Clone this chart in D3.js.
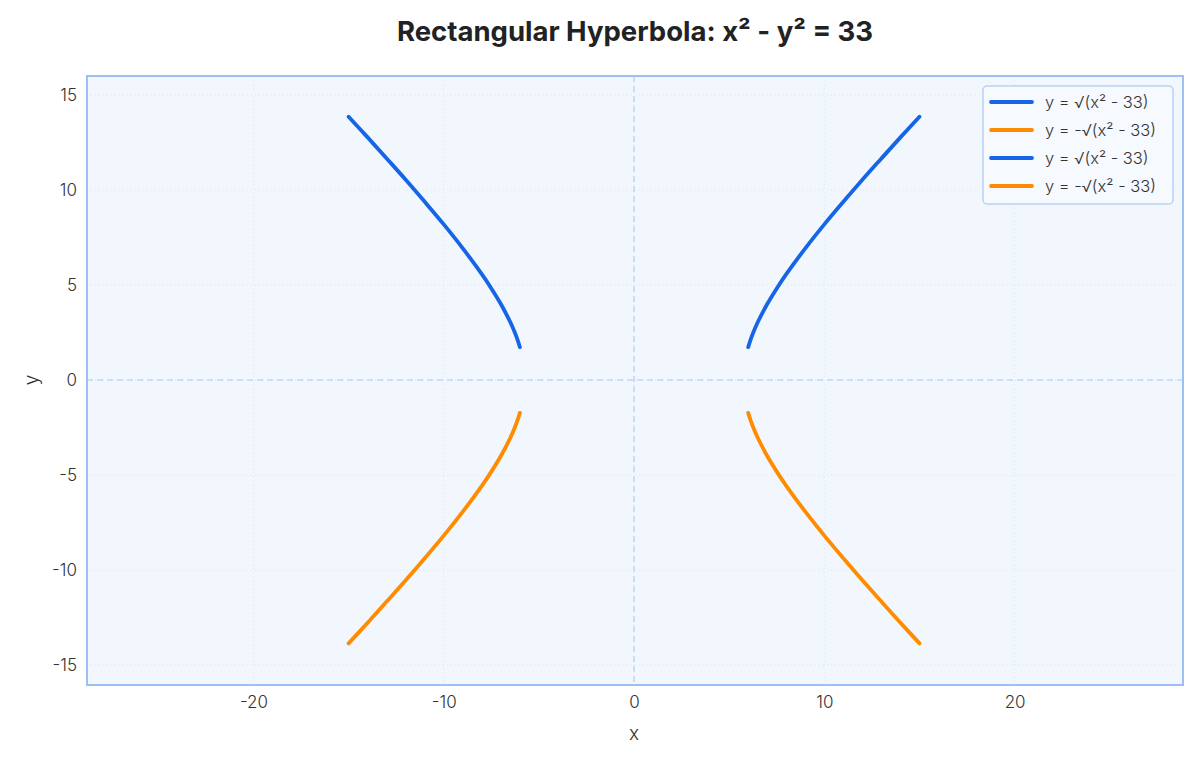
<!DOCTYPE html>
<html>
<head>
<meta charset="utf-8">
<script src="https://cdn.jsdelivr.net/npm/d3@7"></script>
<style>
  body { margin: 0; background: #fff; }
  svg { font-family: Inter, "Noto Sans", sans-serif; }
</style>
</head>
<body>
<svg id="chart" width="1200" height="762"></svg>
<script>
var branchX = [6, 6.1, 6.25, 6.5, 7, 7.5, 8, 9, 10, 11, 12, 13, 14, 15];
var branchY = [1.73, 2.05, 2.46, 3.04, 4.00, 4.82, 5.57, 6.93, 8.19, 9.38, 10.54, 11.66, 12.77, 13.86];
var xTicks = [-20, -10, 0, 10, 20];
var yTicks = [-15, -10, -5, 0, 5, 10, 15];
var seriesNames = ["y = \u221A(x\u00B2 - 33)", "y = -\u221A(x\u00B2 - 33)", "y = \u221A(x\u00B2 - 33)", "y = -\u221A(x\u00B2 - 33)"];
var seriesColors = ["#1565e6", "#ff8c00", "#1565e6", "#ff8c00"];
// sign of x, sign of y for each series
var seriesSigns = [[1, 1], [1, -1], [-1, 1], [-1, -1]];

var margin = { left: 87, top: 76, right: 17, bottom: 77 };
var width = 1200, height = 762;

var svg = d3.select("#chart");

var x = d3.scaleLinear().domain([-28.75, 28.85]).range([margin.left, width - margin.right]);
var y = d3.scaleLinear().domain([-16.05, 16.0]).range([height - margin.bottom, margin.top]);

// plot background
svg.append("rect")
    .attr("x", margin.left).attr("y", margin.top)
    .attr("width", width - margin.right - margin.left)
    .attr("height", height - margin.bottom - margin.top)
    .attr("fill", "#f2f7fd");

// dotted grid
svg.append("g").selectAll("line").data(xTicks).enter().append("line")
    .attr("x1", function(d) { return x(d); }).attr("x2", function(d) { return x(d); })
    .attr("y1", margin.top).attr("y2", height - margin.bottom)
    .attr("stroke", "#dbe5f2").attr("stroke-width", 1).attr("stroke-dasharray", "1,3");
svg.append("g").selectAll("line").data(yTicks).enter().append("line")
    .attr("y1", function(d) { return y(d); }).attr("y2", function(d) { return y(d); })
    .attr("x1", margin.left).attr("x2", width - margin.right)
    .attr("stroke", "#dbe5f2").attr("stroke-width", 1).attr("stroke-dasharray", "1,3");

// zero lines
svg.append("line")
    .attr("x1", margin.left).attr("x2", width - margin.right)
    .attr("y1", y(0)).attr("y2", y(0))
    .attr("stroke", "#c3d7f5").attr("stroke-width", 1.6).attr("stroke-dasharray", "6,4");
svg.append("line")
    .attr("x1", x(0)).attr("x2", x(0))
    .attr("y1", margin.top).attr("y2", height - margin.bottom)
    .attr("stroke", "#c3d7f5").attr("stroke-width", 1.6).attr("stroke-dasharray", "6,4");

// curves
var line = d3.line()
    .x(function(d) { return x(d[0]); })
    .y(function(d) { return y(d[1]); })
    .curve(d3.curveCatmullRom);

seriesSigns.forEach(function(s, i) {
    var pts = branchX.map(function(v, j) { return [s[0] * v, s[1] * branchY[j]]; });
    svg.append("path")
        .datum(pts)
        .attr("d", line)
        .attr("fill", "none")
        .attr("stroke", seriesColors[i])
        .attr("stroke-width", 3.8)
        .attr("stroke-linecap", "round");
});

// frame
svg.append("rect")
    .attr("x", margin.left).attr("y", margin.top)
    .attr("width", width - margin.right - margin.left)
    .attr("height", height - margin.bottom - margin.top)
    .attr("fill", "none").attr("stroke", "#9cc0f2").attr("stroke-width", 2);

// axes
var fmt = function(d) { return String(d); };
var xAxis = svg.append("g")
    .attr("transform", "translate(0," + (height - margin.bottom) + ")")
    .call(d3.axisBottom(x).tickValues(xTicks).tickFormat(fmt).tickSize(0).tickPadding(11));
var yAxis = svg.append("g")
    .attr("transform", "translate(" + margin.left + ",0)")
    .call(d3.axisLeft(y).tickValues(yTicks).tickFormat(fmt).tickSize(0).tickPadding(10));
[xAxis, yAxis].forEach(function(a) {
    a.select(".domain").remove();
    a.selectAll("text")
        .attr("font-family", "Inter, 'Noto Sans', sans-serif")
        .attr("font-size", 17).attr("font-weight", 300).attr("fill", "#333");
});

// axis labels
svg.append("text")
    .attr("x", x(0)).attr("y", 740)
    .attr("text-anchor", "middle").attr("font-size", 19).attr("font-weight", 300).attr("fill", "#333")
    .text("x");
svg.append("text")
    .attr("transform", "translate(38," + y(0) + ") rotate(-90)")
    .attr("text-anchor", "middle").attr("font-size", 19).attr("font-weight", 300).attr("fill", "#333")
    .text("y");

// title
svg.append("text")
    .attr("x", 635).attr("y", 41)
    .attr("text-anchor", "middle").attr("font-size", 27.5).attr("font-weight", "bold")
    .attr("fill", "#222")
    .text("Rectangular Hyperbola: x\u00B2 - y\u00B2 = 33");

// legend
var lg = svg.append("g").attr("transform", "translate(983,86)");
lg.append("rect")
    .attr("width", 190).attr("height", 118).attr("rx", 4)
    .attr("fill", "#f6f9fe").attr("stroke", "#b9d1f5").attr("stroke-width", 1.5);
seriesNames.forEach(function(name, i) {
    var row = lg.append("g").attr("transform", "translate(0," + (16 + i * 28) + ")");
    row.append("line")
        .attr("x1", 8).attr("x2", 49)
        .attr("stroke", seriesColors[i]).attr("stroke-width", 3.8).attr("stroke-linecap", "round");
    row.append("text")
        .attr("x", 62).attr("y", 6)
        .attr("font-size", 16.5).attr("font-weight", 300).attr("fill", "#333")
        .text(name);
});
</script>
</body>
</html>
